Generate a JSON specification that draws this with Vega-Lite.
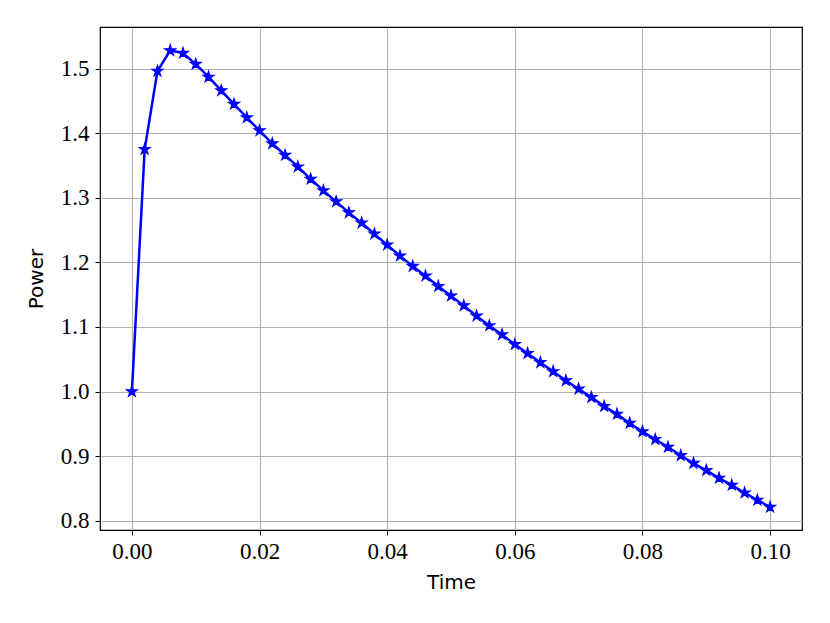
{
  "$schema": "https://vega.github.io/schema/vega-lite/v6.json",
  "description": "Power over time, blue line with star markers.",
  "autosize": "none",
  "width": 702,
  "height": 503,
  "padding": {"left": 100, "top": 27, "right": 28, "bottom": 93},
  "background": "white",
  "config": {
    "view": {"stroke": "black", "strokeWidth": 1.2},
    "axis": {
      "grid": true,
      "gridColor": "#b0b0b0",
      "gridWidth": 1.1,
      "domain": false,
      "tickColor": "black",
      "tickSize": 5,
      "tickWidth": 1,
      "labelFont": "Liberation Serif",
      "labelFontSize": 23,
      "labelColor": "black",
      "titleFont": "DejaVu Sans",
      "titleFontSize": 20,
      "titleFontWeight": "normal",
      "titleColor": "black"
    }
  },
  "data": {
    "values": [
      {"time": 0.000, "power": 1.000},
      {"time": 0.002, "power": 1.375},
      {"time": 0.004, "power": 1.496},
      {"time": 0.006, "power": 1.528},
      {"time": 0.008, "power": 1.524},
      {"time": 0.010, "power": 1.507},
      {"time": 0.012, "power": 1.487},
      {"time": 0.014, "power": 1.466},
      {"time": 0.016, "power": 1.445},
      {"time": 0.018, "power": 1.424},
      {"time": 0.020, "power": 1.404},
      {"time": 0.022, "power": 1.384},
      {"time": 0.024, "power": 1.366},
      {"time": 0.026, "power": 1.348},
      {"time": 0.028, "power": 1.329},
      {"time": 0.030, "power": 1.311},
      {"time": 0.032, "power": 1.294},
      {"time": 0.034, "power": 1.277},
      {"time": 0.036, "power": 1.261},
      {"time": 0.038, "power": 1.244},
      {"time": 0.040, "power": 1.227},
      {"time": 0.042, "power": 1.210},
      {"time": 0.044, "power": 1.194},
      {"time": 0.046, "power": 1.179},
      {"time": 0.048, "power": 1.163},
      {"time": 0.050, "power": 1.148},
      {"time": 0.052, "power": 1.133},
      {"time": 0.054, "power": 1.117},
      {"time": 0.056, "power": 1.102},
      {"time": 0.058, "power": 1.088},
      {"time": 0.060, "power": 1.073},
      {"time": 0.062, "power": 1.059},
      {"time": 0.064, "power": 1.045},
      {"time": 0.066, "power": 1.031},
      {"time": 0.068, "power": 1.017},
      {"time": 0.070, "power": 1.004},
      {"time": 0.072, "power": 0.991},
      {"time": 0.074, "power": 0.977},
      {"time": 0.076, "power": 0.965},
      {"time": 0.078, "power": 0.951},
      {"time": 0.080, "power": 0.938},
      {"time": 0.082, "power": 0.926},
      {"time": 0.084, "power": 0.914},
      {"time": 0.086, "power": 0.901},
      {"time": 0.088, "power": 0.889},
      {"time": 0.090, "power": 0.878},
      {"time": 0.092, "power": 0.866},
      {"time": 0.094, "power": 0.855},
      {"time": 0.096, "power": 0.843},
      {"time": 0.098, "power": 0.832},
      {"time": 0.100, "power": 0.821}
    ]
  },
  "encoding": {
    "x": {
      "field": "time",
      "type": "quantitative",
      "scale": {"domain": [-0.005, 0.105], "nice": false, "zero": false},
      "axis": {
        "title": "Time",
        "values": [0, 0.02, 0.04, 0.06, 0.08, 0.1],
        "format": ".2f",
        "labelPadding": 5,
        "titlePadding": 9
      }
    },
    "y": {
      "field": "power",
      "type": "quantitative",
      "scale": {"domain": [0.7856, 1.5644], "nice": false, "zero": false},
      "axis": {
        "title": "Power",
        "values": [0.8, 0.9, 1.0, 1.1, 1.2, 1.3, 1.4, 1.5],
        "format": ".1f",
        "labelPadding": 6,
        "titlePadding": 14
      }
    }
  },
  "layer": [
    {"mark": {"type": "line", "color": "#0000ff", "strokeWidth": 2.5}},
    {
      "mark": {
        "type": "point",
        "shape": "M0,-1L0.2245,-0.309L0.951,-0.309L0.363,0.118L0.588,0.809L0,0.382L-0.588,0.809L-0.363,0.118L-0.951,-0.309L-0.2245,-0.309Z",
        "filled": true,
        "color": "#0000ff",
        "stroke": "#0000ff",
        "strokeWidth": 1.2,
        "opacity": 1,
        "size": 130
      }
    }
  ]
}
